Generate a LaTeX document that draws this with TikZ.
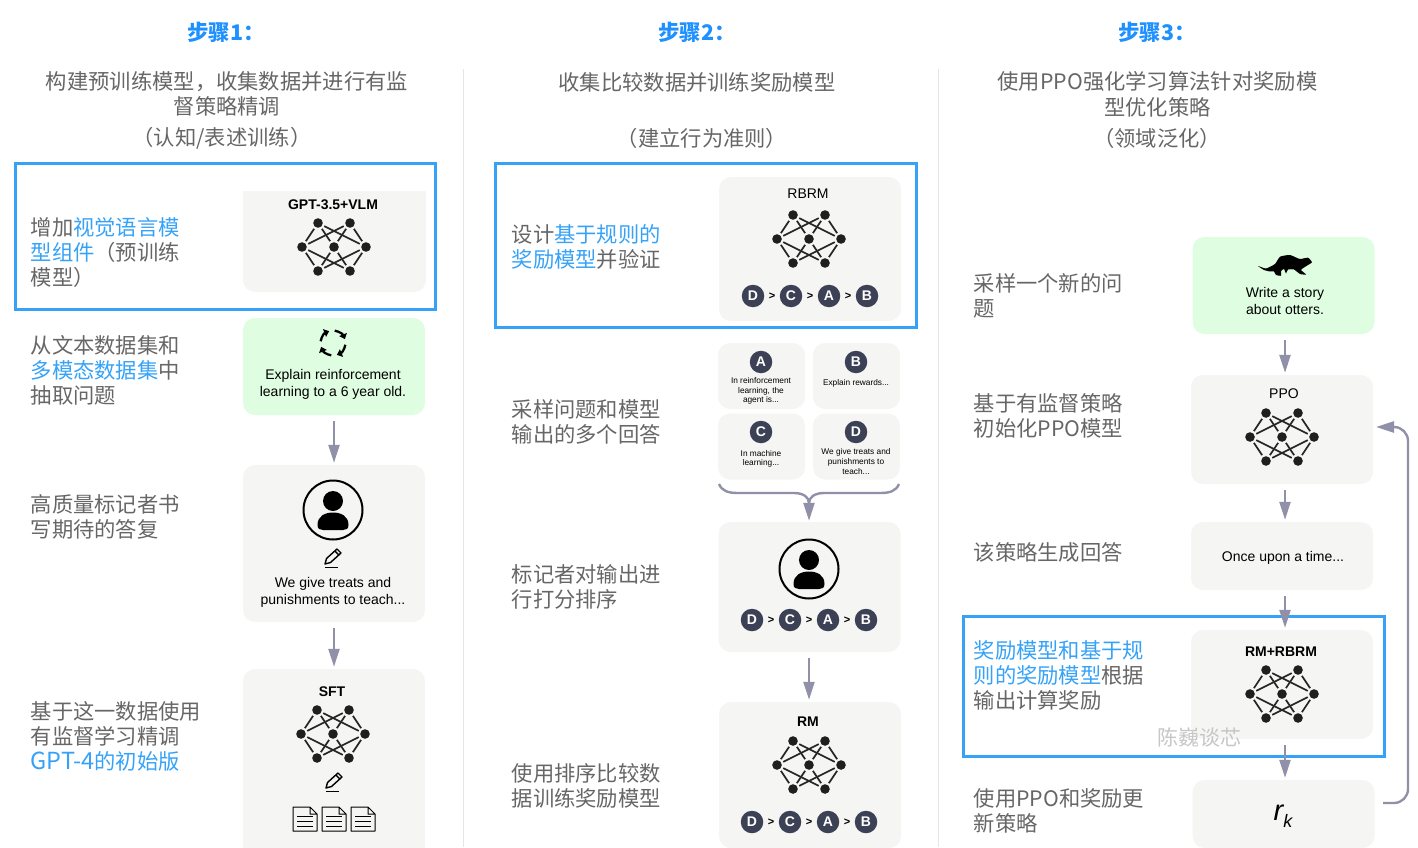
\documentclass[tikz,border=0pt]{standalone}
\usepackage{fontspec}
\setmainfont{Liberation Sans}
\newfontfamily\cjk{Noto Sans CJK SC}
\usetikzlibrary{arrows.meta}
\definecolor{cardgray}{HTML}{F5F5F3}
\definecolor{cardgreen}{HTML}{DFFDE0}
\definecolor{hiblue}{HTML}{36A2F7}
\definecolor{headblue}{HTML}{1E90FF}
\definecolor{txtgray}{HTML}{666666}
\definecolor{flowgray}{HTML}{9090A9}
\definecolor{badgeblue}{HTML}{3D4156}
\newcommand{\bl}[1]{\textcolor{hiblue}{#1}}
\tikzstyle{card} = [fill=cardgray, rounded corners=12pt, inner sep=0pt, minimum width=182pt]
\tikzstyle{greencard} = [card, fill=cardgreen]
\tikzstyle{mini} = [card, minimum width=87pt, minimum height=66pt]
\tikzstyle{hilite} = [draw=hiblue, line width=3pt, inner sep=0pt, outer sep=0pt]
\tikzstyle{note} = [anchor=west, align=left, inner sep=0pt, text=txtgray, font=\cjk\fontsize{21.3}{25}\selectfont]
\tikzstyle{subhead} = [align=center, inner sep=0pt, text=txtgray, font=\cjk\fontsize{21.3}{25.5}\selectfont]
\tikzstyle{stephead} = [anchor=west, inner sep=0pt, text=headblue, font=\cjk\bfseries\fontsize{21.5}{25}\selectfont]
\tikzstyle{captxt} = [align=center, inner sep=0pt, font=\fontsize{14}{17}\selectfont]
\tikzstyle{tinytxt} = [align=center, inner sep=0pt, font=\fontsize{8.3}{9.6}\selectfont]
\tikzstyle{badge} = [circle, fill=badgeblue, text=white, inner sep=0pt, minimum size=22.5pt, font=\bfseries\fontsize{14}{14}\selectfont]
\tikzstyle{rankgt} = [inner sep=0pt, font=\bfseries\fontsize{11}{11}\selectfont]
\tikzstyle{flow} = [->, draw=flowgray, line width=2.4pt, shorten <=6pt, shorten >=2pt]
\tikzstyle{netedge} = [draw=black!85, line width=1.7pt, shorten <=7pt, shorten >=7pt]
\newcommand{\netic}[2]{\begin{scope}[shift={(#1,#2)}]
  \foreach \ax/\ay in {-16/-24,16/-24,-16/24,16/24}
    \foreach \bx in {-32,0,32}
      \draw[netedge] (\ax,\ay) -- (\bx,0);
  \foreach \ax/\ay in {-16/-24,16/-24,-16/24,16/24,-32/0,0/0,32/0}
    \fill[black!88] (\ax,\ay) circle (4.8pt);
\end{scope}}
\newcommand{\personic}[2]{\begin{scope}[shift={(#1,#2)}]
  \draw[line width=2pt] (0,0) circle (29.5pt);
  \fill (0,-9) circle (10pt);
  \fill (-15.5,15) .. controls (-15.5,6) and (-8,2.5) .. (0,2.5) .. controls (8,2.5) and (15.5,6) .. (15.5,15) .. controls (15.5,19) and (13,20) .. (10,20) -- (-10,20) .. controls (-13,20) and (-15.5,19) .. cycle;
\end{scope}}
\newcommand{\pencilic}[2]{\begin{scope}[shift={(#1,#2)}]
  \draw[line width=1.4pt, line join=round] (-8,6) -- (-6.5,0.5) -- (4,-9) -- (8,-5) -- (-2.5,4.5) -- cycle (1.8,-7) -- (6,-3);
  \draw[line width=1.5pt] (-8,9.5) -- (5,9.5);
\end{scope}}
\newcommand{\docic}[2]{\begin{scope}[shift={(#1,#2)}]
  \draw[line width=1pt, line join=round] (-12,-12) -- (5,-12) -- (12,-5) -- (12,12) -- (-12,12) -- cycle (5,-12) -- (5,-5) -- (12,-5);
  \draw[line width=1pt] (-8,-3) -- (8,-3) (-8,2) -- (8,2) (-8,7.5) -- (8,7.5);
\end{scope}}
% badges D > C > A > B
\newcommand{\rankrow}[3]{
  \path node[badge] at (#2,#3) (#1d) {D};
  \path node[badge,right of=#1d,node distance=38pt] (#1c) {C};
  \path node[badge,right of=#1c,node distance=38pt] (#1a) {A};
  \path node[badge,right of=#1a,node distance=38pt] (#1b) {B};
  \path node[rankgt,right of=#1d,node distance=19pt] (#1g) {>};
  \path node[rankgt,right of=#1c,node distance=19pt] (#1h) {>};
  \path node[rankgt,right of=#1a,node distance=19pt] (#1i) {>};
}
\begin{document}
\begin{tikzpicture}[x=1pt,y=-1pt,>={Triangle[length=18pt,width=11pt]}]
  \useasboundingbox (0,0) rectangle (1418,848);
  % dividers
  \path node[inner sep=0pt] at (463,68) (divatop) {};
  \path node[inner sep=0pt] at (463,848) (divabot) {};
  \path node[inner sep=0pt] at (938,68) (divbtop) {};
  \path node[inner sep=0pt] at (938,848) (divbbot) {};
  \draw[black!10] (divatop) -- (divabot);
  \draw[black!10] (divbtop) -- (divbbot);

  % headings
  \path node[stephead] at (187,32) (stepa) {步骤1：};
  \path node[stephead] at (658,32) (stepb) {步骤2：};
  \path node[stephead] at (1118,32) (stepc) {步骤3：};
  \path node[subhead] at (227,94) (suba) {构建预训练模型，收集数据并进行有监\\督策略精调};
  \path node[subhead] at (222,138.5) (subaa) {（认知/表述训练）};
  \path node[subhead] at (697,82) (subb) {收集比较数据并训练奖励模型};
  \path node[subhead] at (702,138) (subba) {（建立行为准则）};
  \path node[subhead] at (1157.5,94.5) (subc) {使用PPO强化学习算法针对奖励模\\型优化策略};
  \path node[subhead] at (1157,138) (subca) {（领域泛化）};

  % step 1
  \fill[cardgray] (243,191) -- (426,191) [rounded corners=12pt] -- (426,292) -- (243,292) [sharp corners] -- cycle;
  \path node[captxt] at (333,205) (gptlab) {\textbf{GPT-3.5+VLM}};
  \netic{334}{247}
  \path node[note] at (30.5,252.5) (noteaa) {增加\bl{视觉语言模}\\\bl{型组件}（预训练\\模型）};
  \path node[note] at (30.5,370.5) (noteab) {从文本数据集和\\\bl{多模态数据集}中\\抽取问题};
  \path node[note] at (30.5,516.5) (noteac) {高质量标记者书\\写期待的答复};
  \path node[note] at (30.5,736) (notead) {基于这一数据使用\\有监督学习精调\\\bl{{\fontsize{23.5}{25}\selectfont GPT-4}的初始版}};
  \path node[greencard,minimum height=97pt] at (334,366.5) (prompt) {};
  \foreach \a in {0,90,180,270}
    \draw[line width=2.3pt,-{Triangle[length=5pt,width=8pt]}] ([shift={({\a+8}:12.5)}]333,343) to[bend left=28] ([shift={({\a+72}:12.5)}]333,343);
  \path node[captxt] at (333,384) (prompttxt) {Explain reinforcement\\learning to a 6 year old.};
  \path node[card,minimum height=157pt] at (334,543.5) (human) {};
  \personic{333}{510}
  \pencilic{333}{558}
  \path node[captxt] at (333,592.5) (humantxt) {We give treats and\\punishments to teach...};
  \path node[card,minimum height=199pt] at (334,768.5) (sft) {};
  \path node[captxt] at (332,692) (sftlab) {\textbf{SFT}};
  \netic{333}{734}
  \pencilic{334}{782}
  \docic{305}{819}
  \docic{334}{819}
  \docic{363}{819}
  \draw[flow] (prompt.south) -- (human.north);
  \draw[flow] (human.south) -- (sft.north);
  \path node[hilite,minimum width=420pt,minimum height=146pt] at (225.5,236.5) (boxa) {};

  % step 2
  \path node[card,minimum height=144pt] at (810,249) (rbrm) {};
  \path node[captxt] at (808,194) (rbrmlab) {RBRM};
  \netic{809}{239}
  \rankrow{ra}{753}{296}
  \path node[note] at (511.5,247) (noteba) {设计\bl{基于规则的}\\\bl{奖励模型}并验证};
  \path node[note] at (511.5,422) (notebb) {采样问题和模型\\输出的多个回答};
  \path node[note] at (511.5,587) (notebc) {标记者对输出进\\行打分排序};
  \path node[note] at (511.5,786) (notebd) {使用排序比较数\\据训练奖励模型};
  \path node[mini] at (761.5,376) (cha) {};
  \path node[mini] at (856.5,376) (chb) {};
  \path node[mini] at (761.5,446.5) (chc) {};
  \path node[mini] at (856.5,446.5) (chd) {};
  \path node[badge] at (761,362) (ba) {A};
  \path node[badge] at (856,362) (bb) {B};
  \path node[badge] at (761,432) (bc) {C};
  \path node[badge] at (856,432) (bd) {D};
  \path node[tinytxt] at (761,391) (ta) {In reinforcement\\learning, the\\agent is...};
  \path node[tinytxt] at (856,383.5) (tb) {Explain rewards...};
  \path node[tinytxt] at (761,459) (tc) {In machine\\learning...};
  \path node[tinytxt] at (856,461.5) (td) {We give treats and\\punishments to\\teach...};
  \path node[card,minimum height=130pt] at (809.5,587) (rank) {};
  \personic{809}{569}
  \rankrow{rb}{752}{620}
  \path node[card,minimum height=146pt] at (810,775) (rm) {};
  \path node[captxt] at (808,722) (rmlab) {\textbf{RM}};
  \netic{809}{765}
  \rankrow{rc}{752}{822}
  \coordinate (bracel) at (719,484);
  \coordinate (bracer) at (899,484);
  \coordinate (bracej) at (809,503);
  \draw[draw=flowgray,line width=2.4pt] (bracel) .. controls (722,491) and (728,493) .. (738,493) -- (794,493) .. controls (803,493) and (809,497) .. (bracej);
  \draw[draw=flowgray,line width=2.4pt] (bracer) .. controls (896,491) and (890,493) .. (880,493) -- (824,493) .. controls (815,493) and (809,497) .. (bracej);
  \draw[flow,shorten <=0pt,shorten >=1pt] (bracej) -- (rank.north -| bracej);
  \draw[flow] (rank.south -| bracej) -- (rm.north -| bracej);
  \path node[hilite,minimum width=421pt,minimum height=164pt] at (706,245.7) (boxb) {};

  % step 3
  \path node[note] at (973.5,295.5) (noteca) {采样一个新的问\\题};
  \path node[note] at (973.5,415.5) (notecb) {基于有监督策略\\初始化PPO模型};
  \path node[note] at (973.5,552) (notecc) {该策略生成回答};
  \path node[note] at (973.5,675) (notecd) {\bl{奖励模型和基于规}\\\bl{则的奖励模型}根据\\输出计算奖励};
  \path node[note] at (973.5,810.5) (notece) {使用PPO和奖励更\\新策略};
  \path node[greencard,minimum height=97pt] at (1283.5,285.5) (otter) {};
  \fill[shift={(1285,265)}] plot[smooth cycle,tension=0.3] coordinates {(-27,1) (-21,5) (-15,6.5) (-11,6.5) (-9,10) (-4,10.7) (-4,6) (-1,4) (1,8.5) (3,4.5) (9,4.5) (15,9) (21,9.5) (16,5) (19,2.5) (23,0) (27,-2.7) (23,-7.3) (14.7,-6) (5,-10) (-5,-8.3) (-10,-1) (-19,3.5)};
  \path node[captxt] at (1285,301) (ottertxt) {Write a story\\about otters.};
  \path node[card,minimum height=109pt] at (1282,429.5) (ppo) {};
  \path node[captxt] at (1284,394) (ppolab) {PPO};
  \netic{1282}{437}
  \path node[card,minimum height=68pt] at (1282,556) (once) {};
  \path node[captxt] at (1283,558) (oncetxt) {Once upon a time...};
  \path node[card,minimum height=109pt] at (1282,684.5) (rmrb) {};
  \path node[captxt] at (1281,652) (rmrblab) {\textbf{RM+RBRM}};
  \netic{1282}{694}
  \path node[card,minimum height=68pt] at (1283.5,814) (rk) {};
  \path node[inner sep=0pt] at (1283,816) (rktxt) {\fontsize{29}{29}\selectfont\itshape r\raisebox{-7pt}{\fontsize{18}{18}\selectfont k}};
  \path node[hilite,minimum width=421pt,minimum height=139.7pt] at (1174,686.6) (boxc) {};
  \path node[inner sep=0pt,text=black!22,font=\cjk\fontsize{21}{25}\selectfont] at (1199,737) (mark) {陈巍谈芯};
  \draw[flow] ([xshift=1.5pt]otter.south) -- ([xshift=3pt]ppo.north);
  \draw[flow] ([xshift=3pt]ppo.south) -- ([xshift=3pt]once.north);
  \draw[flow] ([xshift=3pt]once.south) -- ([xshift=3pt]rmrb.north);
  \draw[flow] ([xshift=3pt]rmrb.south) -- ([xshift=1.5pt]rk.north);
  \coordinate (rkout) at (1383,803);
  \coordinate (ppoin) at (1376,427);
  \draw[->,draw=flowgray,line width=2.4pt,rounded corners=14pt] (rkout) -- (1408,803) -- (1408,427) -- (ppoin);
\end{tikzpicture}
\end{document}
